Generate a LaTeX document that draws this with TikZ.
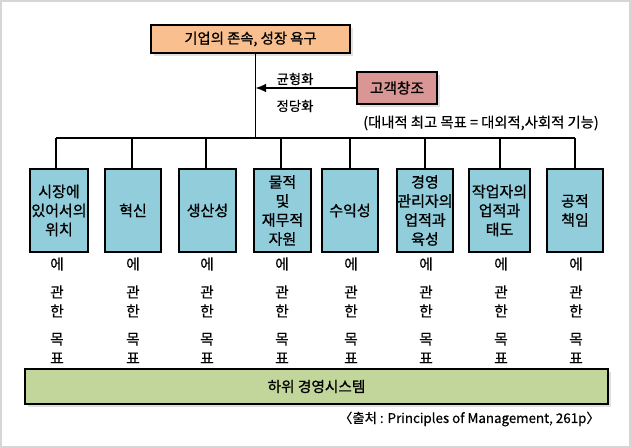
\documentclass[tikz,border=0pt]{standalone}
\usepackage{fontspec}
\setmainfont{Noto Sans CJK KR}[FakeBold=0.4]
\newfontfamily\boxfont{Noto Sans CJK KR}[FakeBold=1.0]
\usepackage{tikz}
\usetikzlibrary{arrows.meta,shadows}

\definecolor{peach}{RGB}{250,191,143}
\definecolor{rose}{RGB}{217,150,148}
\definecolor{goalblue}{RGB}{146,205,220}
\definecolor{subgreen}{RGB}{194,214,155}
\definecolor{framegray}{RGB}{214,214,214}

\tikzset{
  softshadow/.style={drop shadow={shadow xshift=2.5pt,shadow yshift=-2.5pt,fill=black,opacity=0.12}},
  topbox/.style={draw,line width=0.8pt,inner sep=0pt,align=center},
  goalbox/.style={topbox,fill=goalblue,minimum height=62.25pt,font=\boxfont\fontsize{11.25}{14.25}\selectfont},
  goallabel/.style={inner sep=0pt,align=center,font=\fontsize{11}{14.25}\selectfont},
  plaintext/.style={inner sep=0.75pt,font=\fontsize{10}{12}\selectfont}
}

\begin{document}
\begin{tikzpicture}[x=0.75pt,y=0.75pt,yscale=-1,xscale=1]
            \useasboundingbox (0,0) rectangle (631,448);
            \draw [framegray, line width=1.5pt] (0.75,0.75) rectangle (630.25,447.25);

            \node (top) [topbox, softshadow, fill=peach, minimum width=149.25pt, minimum height=21pt, font=\boxfont\fontsize{10.75}{12}\selectfont] at (250.5,39) {기업의 존속, 성장 욕구};
            \node (cc) [topbox, softshadow, fill=rose, minimum width=60pt, minimum height=24pt, font=\boxfont\fontsize{11}{12}\selectfont] at (397,88) {고객창조};
            \node (bal) [plaintext] at (295,79) {균형화};
            \node (leg) [plaintext] at (295,106) {정당화};
            \node (note) [plaintext, font=\fontsize{10.75}{12}\selectfont] at (481,123) {(대내적 최고 목표 = 대외적,사회적 기능)};

            \coordinate (trunk) at (255.5,138);
            \draw [line width=0.8pt] (top.south -| trunk) -- (trunk) ;
            \draw [line width=0.8pt, -{Latex[length=8pt,width=6.5pt]}] (cc.west) -- (cc.west -| trunk) ;

            \coordinate (d1) at (56,138);
            \coordinate (d2) at (132,138);
            \coordinate (d3) at (206,138);
            \coordinate (d4) at (281,138);
            \coordinate (d5) at (350,138);
            \coordinate (d6) at (425,138);
            \coordinate (d7) at (500,138);
            \coordinate (d8) at (575,138);
            \draw [line width=0.8pt] (d1) -- (d8) ;

            \node (b1) [goalbox, minimum width=43.5pt] at (59,210.5) {시장에\\있어서의\\위치};
            \node (b2) [goalbox, minimum width=42pt] at (133,210.5) {혁신};
            \node (b3) [goalbox, minimum width=42.75pt] at (207.5,210.5) {생산성};
            \node (b4) [goalbox, minimum width=42.75pt] at (282.5,210.5) {물적\\및\\재무적\\자원};
            \node (b5) [goalbox, minimum width=42pt] at (350,210.5) {수익성};
            \node (b6) [goalbox, minimum width=42pt] at (425,210.5) {경영\\관리자의\\업적과\\육성};
            \node (b7) [goalbox, minimum width=45.75pt] at (499.5,210.5) {작업자의\\업적과\\태도};
            \node (b8) [goalbox, minimum width=42pt] at (575,210.5) {공적\\책임};

            \draw [line width=0.8pt] (d1) -- (d1 |- b1.north) ;
            \draw [line width=0.8pt] (d2) -- (d2 |- b2.north) ;
            \draw [line width=0.8pt] (d3) -- (d3 |- b3.north) ;
            \draw [line width=0.8pt] (d4) -- (d4 |- b4.north) ;
            \draw [line width=0.8pt] (d5) -- (d5 |- b5.north) ;
            \draw [line width=0.8pt] (d6) -- (d6 |- b6.north) ;
            \draw [line width=0.8pt] (d7) -- (d7 |- b7.north) ;
            \draw [line width=0.8pt] (d8) -- (d8 |- b8.north) ;

            % 에 관한 목표
            \node (g1) [goallabel] at (57,310.5) {에\\[6.75pt]관\\한\\[6.75pt]목\\표};
            \node (g2) [goallabel] at (133,310.5) {에\\[6.75pt]관\\한\\[6.75pt]목\\표};
            \node (g3) [goallabel] at (207,310.5) {에\\[6.75pt]관\\한\\[6.75pt]목\\표};
            \node (g4) [goallabel] at (282,310.5) {에\\[6.75pt]관\\한\\[6.75pt]목\\표};
            \node (g5) [goallabel] at (351,310.5) {에\\[6.75pt]관\\한\\[6.75pt]목\\표};
            \node (g6) [goallabel] at (426,310.5) {에\\[6.75pt]관\\한\\[6.75pt]목\\표};
            \node (g7) [goallabel] at (501,310.5) {에\\[6.75pt]관\\한\\[6.75pt]목\\표};
            \node (g8) [goallabel] at (576,310.5) {에\\[6.75pt]관\\한\\[6.75pt]목\\표};

            \node (sub) [topbox, softshadow, fill=subgreen, minimum width=437.25pt, minimum height=26.25pt, font=\boxfont\fontsize{11}{12}\selectfont] at (316.5,386.5) {하위 경영시스템};
            \node (src) [plaintext, anchor=east, font=\fontsize{10}{12}\selectfont] at (601,419) {〈출처 : Principles of Management, 261p〉};
\end{tikzpicture}
\end{document}
